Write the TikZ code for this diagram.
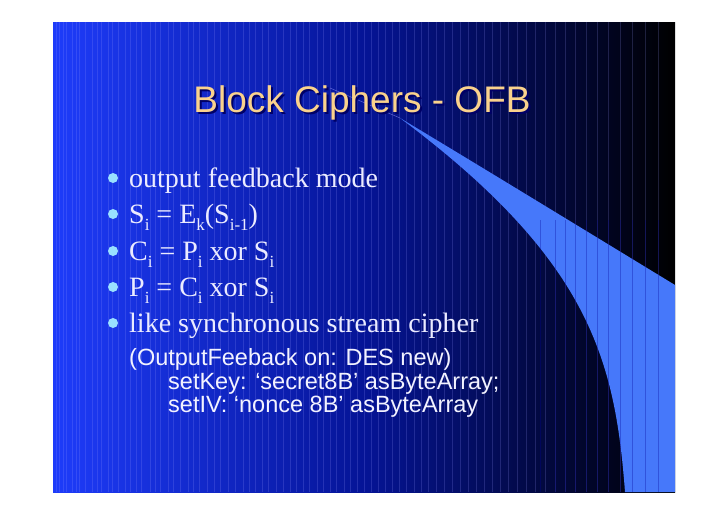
\documentclass[tikz,border=0pt]{standalone}
\usepackage{fontspec}
\setmainfont{Liberation Serif}
\newfontfamily\arialf{Liberation Sans}
\definecolor{bgL}{RGB}{30,60,250}
\definecolor{bgM}{RGB}{5,20,150}
\definecolor{band}{RGB}{70,120,250}
\definecolor{ttl}{RGB}{250,210,140}
\newcommand{\mysb}[1]{\raisebox{-0.28em}{\fontsize{17}{18}\selectfont #1}}
\begin{document}
\begin{tikzpicture}[x=1pt,y=-1pt,
  bul/.style={text=white!92!blue,anchor=base west,inner sep=0pt,font=\fontsize{28}{30}\selectfont},
  code/.style={text=white!95!blue,anchor=base west,inner sep=0pt,font=\arialf\fontsize{23.5}{25}\selectfont},
  dot/.style={circle,fill=blue!30!cyan!40!white,inner sep=0pt,minimum size=10pt}]
\useasboundingbox (0,0) rectangle (728,514);
\fill[white] (0,0) rectangle (728,514);
\shade[left color=bgL, right color=black, middle color=bgM] (53,22) rectangle (675,492);
\foreach \x in {56,59,63,66,72,76,79,85,92,97,101,108,112,118,125,130,136,141,150,155,160,168,173,180,188,193,199,207,214,220,228,235,243,249,255,262,268,276,283,290,296,303,309,317,323,330,336,344,350,357,364,371,378,385,392,399,406,414,421,428,436,444,452,460,468,476,484,492,500,508,517,526,535,545,555,565,575,586,597,608,620,632,645,658}
  \draw[blue!40!white,opacity=0.2,line width=0.5pt] (\x,22) -- (\x,492);
\fill[band] (400,118) .. controls (470,160) and (560,215) .. (675,285) -- (675,492) -- (625,492) .. controls (615,360) and (590,260) .. (400,118) -- cycle;
\foreach \x in {540,555,565,575,586,597,608,620,632,645,658}
  \draw[blue!60!black,opacity=0.3,line width=0.5pt] (\x,220) -- (\x,492);
\draw[blue!40!white,opacity=0.6,line width=0.5pt] (330,88) -- (400,118);
\node[text=black!60!blue,font=\arialf\fontsize{37}{39}\selectfont] at (364,105) {Block Ciphers - OFB};
\node (title) [text=ttl,font=\arialf\fontsize{37}{39}\selectfont] at (362,103) {Block Ciphers - OFB};
\foreach \y/\n in {178/b1,214/b2,251/b3,287/b4,323/b5} \node (\n) [dot] at (113,\y) {};
\node (t1) [bul] at (129,187) {output feedback mode};
\node (t2) [bul] at (129,223) {S\mysb{i} = E\mysb{k}(S\mysb{i-1})};
\node (t3) [bul] at (129,260) {C\mysb{i} = P\mysb{i} xor S\mysb{i}};
\node (t4) [bul] at (129,296) {P\mysb{i} = C\mysb{i} xor S\mysb{i}};
\node (t5) [bul] at (129,332) {like synchronous stream cipher};
\node (c1) [code] at (129,365) {(OutputFeeback on: DES new)};
\node (c2) [code] at (168,389) {setKey: ‘secret8B’ asByteArray;};
\node (c3) [code] at (168,412) {setIV: ‘nonce 8B’ asByteArray};
\end{tikzpicture}
\end{document}
